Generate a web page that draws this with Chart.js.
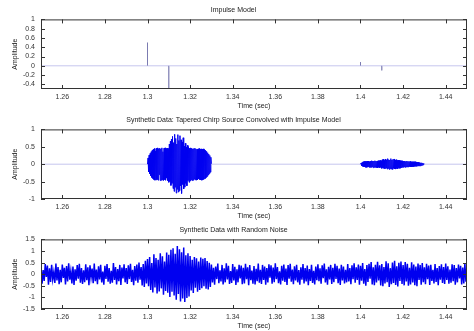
<!DOCTYPE html>
<html>
<head>
<meta charset="utf-8">
<script src="https://cdn.jsdelivr.net/npm/chart.js@4.4.1/dist/chart.umd.min.js"></script>
<style>
  html, body { margin: 0; padding: 0; background: #fff; }
  #wrap { position: relative; width: 474px; height: 331px; }
  .panel { position: absolute; left: 0; width: 474px; height: 110px; }
</style>
</head>
<body>
<div id="wrap">
  <div class="panel" style="top:0"><canvas id="impulse"></canvas></div>
  <div class="panel" style="top:110px"><canvas id="synth"></canvas></div>
  <div class="panel" style="top:220px"><canvas id="noisy"></canvas></div>
</div>
<script>
// time axis (seconds)
var xMin = 1.25, xMax = 1.45;
var xTicks = [1.26, 1.28, 1.3, 1.32, 1.34, 1.36, 1.38, 1.4, 1.42, 1.44];

// impulse model: reflection times and amplitudes
var impulseTimes = [1.30, 1.31, 1.40, 1.41];
var impulseAmps = [0.5, -0.5, 0.08, -0.1];
var yTicksImpulse = [-0.4, -0.2, 0, 0.2, 0.4, 0.6, 0.8, 1];

// synthetic trace: two wavelet groups, sampled every 0.25 ms
var synthDt = 0.00025;
var synthStartA = 1.300;
var synthA = [
  0, 0.18, -0.22, 0.26, -0.28, 0.31, -0.33, 0.36, -0.38, 0.40,
  -0.41, 0.43, -0.44, 0.45, -0.46, 0.38, -0.45, 0.46, -0.44, 0.47,
  -0.46, 0.45, -0.30, 0.46, -0.47, 0.44, -0.46, 0.47, -0.45, 0.36,
  -0.47, 0.46, -0.44, 0.47, -0.46, 0.45, -0.40, 0.46, -0.47, 0.45,
  -0.52, 0.58, -0.49, 0.66, -0.61, 0.72, -0.55, 0.80, -0.70, 0.62,
  -0.78, 0.86, -0.66, 0.74, -0.83, 0.58, -0.72, 0.85, -0.80, 0.68,
  -0.76, 0.82, -0.62, 0.70, -0.84, 0.64, -0.58, 0.76, -0.71, 0.52,
  -0.66, 0.60, -0.55, 0.49, -0.62, 0.54, -0.47, 0.50, -0.52, 0.46,
  -0.48, 0.47, -0.45, 0.46, -0.47, 0.44, -0.46, 0.45, -0.43, 0.46,
  -0.45, 0.44, -0.46, 0.43, -0.45, 0.44, -0.42, 0.45, -0.44, 0.43,
  -0.45, 0.44, -0.46, 0.43, -0.45, 0.44, -0.43, 0.42, -0.41, 0.40,
  -0.38, 0.37, -0.35, 0.33, -0.31, 0.29, -0.27, 0.25, -0.23, 0.20,
  0
];
var synthStartB = 1.400;
var synthB = [
  0, 0.03, -0.04, 0.05, -0.06, 0.07, -0.07, 0.08, -0.08, 0.08,
  -0.09, 0.08, -0.09, 0.09, -0.08, 0.09, -0.09, 0.08, -0.09, 0.09,
  -0.09, 0.10, -0.08, 0.09, -0.10, 0.09, -0.09, 0.10, -0.09, 0.09,
  -0.10, 0.09, -0.10, 0.10, -0.09, 0.10, -0.10, 0.11, -0.09, 0.10,
  -0.12, 0.13, -0.10, 0.14, -0.12, 0.11, -0.13, 0.15, -0.11, 0.13,
  -0.14, 0.16, -0.12, 0.13, -0.15, 0.12, -0.13, 0.16, -0.14, 0.12,
  -0.15, 0.14, -0.12, 0.15, -0.13, 0.12, -0.14, 0.13, -0.12, 0.11,
  -0.13, 0.12, -0.10, 0.11, -0.12, 0.10, -0.11, 0.10, -0.09, 0.10,
  -0.09, 0.09, -0.08, 0.09, -0.09, 0.08, -0.08, 0.09, -0.08, 0.08,
  -0.08, 0.08, -0.07, 0.08, -0.08, 0.07, -0.08, 0.07, -0.07, 0.07,
  -0.07, 0.07, -0.06, 0.07, -0.06, 0.06, -0.06, 0.06, -0.05, 0.06,
  -0.05, 0.05, -0.05, 0.04, -0.04, 0.04, -0.03, 0.03, -0.02, 0.02,
  0
];
var yTicksSynth = [-1, -0.5, 0, 0.5, 1];

// trace with noise, sampled every 0.5 ms from 1.25 s (one row = 10 ms)
var noisyDt = 0.0005;
var noisy = [
  0.32, -0.41, 0.18, -0.29, 0.44, -0.12, 0.37, -0.45, 0.25, -0.33, 0.41, -0.22, 0.09, -0.38, 0.46, -0.27, 0.31, -0.43, 0.19, -0.35,
  0.42, -0.16, 0.28, -0.44, 0.35, -0.31, 0.47, -0.24, 0.13, -0.40, 0.33, -0.46, 0.21, -0.28, 0.39, -0.19, 0.45, -0.37, 0.26, -0.42,
  0.17, -0.34, 0.43, -0.26, 0.30, -0.47, 0.38, -0.14, 0.24, -0.39, 0.46, -0.30, 0.20, -0.43, 0.34, -0.23, 0.41, -0.36, 0.11, -0.45,
  0.36, -0.20, 0.44, -0.32, 0.27, -0.41, 0.15, -0.37, 0.48, -0.25, 0.31, -0.44, 0.22, -0.30, 0.40, -0.46, 0.29, -0.18, 0.43, -0.35,
  0.26, -0.42, 0.38, -0.21, 0.45, -0.33, 0.19, -0.47, 0.35, -0.28, 0.42, -0.37, 0.50, -0.24, 0.31, -0.49, 0.44, -0.55, 0.58, -0.40,
  0.65, -0.52, 0.74, -0.68, 0.48, -0.79, 0.86, -0.57, 0.70, -0.83, 0.62, -0.74, 0.90, -0.61, 0.77, -0.88, 0.55, -0.72, 0.93, -0.80,
  0.84, -0.98, 1.05, -0.76, 1.12, -0.92, 0.88, -1.10, 1.22, -0.85, 1.08, -1.18, 0.95, -1.05, 1.15, -1.20, 0.82, -1.02, 0.90, -0.96,
  0.78, -0.70, 0.62, -0.81, 0.74, -0.58, 0.69, -0.76, 0.55, -0.68, 0.72, -0.60, 0.66, -0.52, 0.70, -0.63, 0.57, -0.66, 0.49, -0.55,
  0.42, -0.36, 0.28, -0.45, 0.33, -0.21, 0.46, -0.39, 0.17, -0.31, 0.40, -0.44, 0.25, -0.35, 0.47, -0.23, 0.36, -0.42, 0.14, -0.38,
  0.44, -0.27, 0.32, -0.46, 0.21, -0.35, 0.41, -0.18, 0.37, -0.43, 0.28, -0.40, 0.45, -0.22, 0.30, -0.47, 0.39, -0.26, 0.16, -0.41,
  0.35, -0.44, 0.23, -0.30, 0.46, -0.37, 0.19, -0.42, 0.40, -0.25, 0.33, -0.45, 0.27, -0.36, 0.43, -0.15, 0.38, -0.41, 0.29, -0.34,
  0.47, -0.21, 0.31, -0.39, 0.12, -0.44, 0.36, -0.28, 0.42, -0.33, 0.24, -0.46, 0.39, -0.19, 0.45, -0.32, 0.20, -0.43, 0.34, -0.27,
  0.40, -0.35, 0.18, -0.45, 0.30, -0.24, 0.44, -0.40, 0.26, -0.31, 0.37, -0.47, 0.22, -0.29, 0.41, -0.38, 0.15, -0.44, 0.33, -0.26,
  0.43, -0.30, 0.25, -0.41, 0.38, -0.17, 0.46, -0.36, 0.21, -0.45, 0.32, -0.23, 0.40, -0.42, 0.28, -0.34, 0.45, -0.20, 0.36, -0.39,
  0.24, -0.46, 0.41, -0.27, 0.33, -0.40, 0.19, -0.35, 0.44, -0.31, 0.27, -0.43, 0.38, -0.22, 0.47, -0.37, 0.30, -0.25, 0.42, -0.45,
  0.36, -0.28, 0.48, -0.41, 0.22, -0.50, 0.39, -0.33, 0.45, -0.19, 0.52, -0.44, 0.30, -0.47, 0.41, -0.36, 0.53, -0.27, 0.38, -0.49,
  0.44, -0.52, 0.31, -0.40, 0.56, -0.35, 0.47, -0.55, 0.26, -0.43, 0.50, -0.38, 0.58, -0.46, 0.34, -0.53, 0.49, -0.29, 0.55, -0.42,
  0.39, -0.48, 0.52, -0.31, 0.45, -0.50, 0.28, -0.44, 0.51, -0.36, 0.42, -0.47, 0.33, -0.52, 0.46, -0.25, 0.40, -0.45, 0.48, -0.34,
  0.30, -0.43, 0.45, -0.22, 0.37, -0.46, 0.41, -0.29, 0.19, -0.40, 0.44, -0.33, 0.26, -0.47, 0.35, -0.24, 0.43, -0.38, 0.31, -0.42,
  0.46, -0.25, 0.34, -0.41, 0.20, -0.37, 0.43, -0.30, 0.39, -0.45, 0.27, -0.35, 0.42, -0.18, 0.36, -0.44, 0.29, -0.40, 0.47, -0.32,
  0.21
];
var yTicksNoisy = [-1.5, -1, -0.5, 0, 0.5, 1, 1.5];

var fontFamily = "'Liberation Sans', Helvetica, Arial, sans-serif";
var zeroColor = '#c6c6ee';

function samples(t0, dt, vals) {
  return vals.map(function (v, i) { return {x: t0 + i * dt, y: v}; });
}

// stems for the impulse model, joined by the zero line
function stems() {
  var pts = [{x: xMin, y: 0}];
  impulseTimes.forEach(function (t, i) {
    pts.push({x: t, y: 0}, {x: t, y: impulseAmps[i]}, {x: t, y: 0});
  });
  pts.push({x: xMax, y: 0});
  return pts;
}

// box round the plot with small inward ticks on all four sides
var boxPlugin = {
  id: 'box',
  afterDatasetsDraw: function (chart) {
    var ctx = chart.ctx, a = chart.chartArea;
    var x = chart.scales.x, y = chart.scales.y;
    var len = 4;
    ctx.save();
    ctx.strokeStyle = '#333';
    ctx.lineWidth = 1;
    ctx.strokeRect(a.left + 0.5, a.top + 0.5, a.right - a.left - 1, a.bottom - a.top - 1);
    ctx.beginPath();
    x.ticks.forEach(function (t) {
      var px = Math.round(x.getPixelForValue(t.value)) + 0.5;
      ctx.moveTo(px, a.bottom); ctx.lineTo(px, a.bottom - len);
      ctx.moveTo(px, a.top); ctx.lineTo(px, a.top + len);
    });
    y.ticks.forEach(function (t) {
      var py = Math.round(y.getPixelForValue(t.value)) + 0.5;
      ctx.moveTo(a.left, py); ctx.lineTo(a.left + len, py);
      ctx.moveTo(a.right, py); ctx.lineTo(a.right - len, py);
    });
    ctx.stroke();
    ctx.restore();
  }
};

function makeChart(id, title, dataset, yMin, yMax, yTicks) {
  return new Chart(document.getElementById(id), {
    type: 'line',
    data: {datasets: [dataset]},
    options: {
      responsive: true,
      maintainAspectRatio: false,
      animation: false,
      events: [],
      layout: {padding: {top: 0, right: 7, bottom: 0, left: 0}},
      elements: {point: {radius: 0}, line: {borderWidth: 1, tension: 0}},
      plugins: {
        legend: {display: false},
        tooltip: {enabled: false},
        title: {
          display: true, text: title, color: '#222',
          font: {family: fontFamily, size: 7, weight: 'normal', lineHeight: 1.2},
          padding: {top: 6, bottom: 5}
        }
      },
      scales: {
        x: {
          type: 'linear', min: xMin, max: xMax,
          grid: {display: false, drawTicks: false},
          border: {display: false},
          afterBuildTicks: function (s) { s.ticks = xTicks.map(function (v) { return {value: v}; }); },
          afterFit: function (s) { s.height = 21; },
          ticks: {
            color: '#333', padding: 3.5, maxRotation: 0, autoSkip: false,
            font: {family: fontFamily, size: 7},
            callback: function (v) { return String(v); }
          },
          title: {
            display: true, text: 'Time (sec)', color: '#222',
            font: {family: fontFamily, size: 7}, padding: {top: 0, bottom: 0}
          }
        },
        y: {
          min: yMin, max: yMax,
          grid: {display: false, drawTicks: false},
          border: {display: false},
          afterBuildTicks: function (s) { s.ticks = yTicks.map(function (v) { return {value: v}; }); },
          afterFit: function (s) { s.width = 41; },
          ticks: {
            color: '#333', padding: 6, autoSkip: false,
            font: {family: fontFamily, size: 7},
            callback: function (v) { return String(v); }
          },
          title: {
            display: true, text: 'Amplitude', color: '#222',
            font: {family: fontFamily, size: 7}, padding: {top: 10.5, bottom: 0}
          }
        }
      }
    },
    plugins: [boxPlugin]
  });
}

function zeroSegment(other) {
  return function (ctx) {
    return (ctx.p0.parsed.y === 0 && ctx.p1.parsed.y === 0) ? zeroColor : other;
  };
}

makeChart('impulse', 'Impulse Model', {
  data: stems(),
  borderColor: 'rgba(110,110,170,0.7)',
  segment: {borderColor: zeroSegment('rgba(110,110,170,0.7)')}
}, -0.5, 1, yTicksImpulse);

var synthPts = [{x: xMin, y: 0}]
  .concat(samples(synthStartA, synthDt, synthA))
  .concat(samples(synthStartB, synthDt, synthB))
  .concat([{x: xMax, y: 0}]);

makeChart('synth', 'Synthetic Data: Tapered Chirp Source Convolved with Impulse Model', {
  data: synthPts,
  borderColor: '#0000f0',
  segment: {borderColor: zeroSegment('#0000f0')}
}, -1, 1, yTicksSynth);

// dense trace: a slightly heavier stroke keeps the band filled
makeChart('noisy', 'Synthetic Data with Random Noise', {
  data: samples(xMin, noisyDt, noisy),
  borderColor: '#0000f0',
  borderWidth: 1.5
}, -1.5, 1.5, yTicksNoisy);
</script>
</body>
</html>
